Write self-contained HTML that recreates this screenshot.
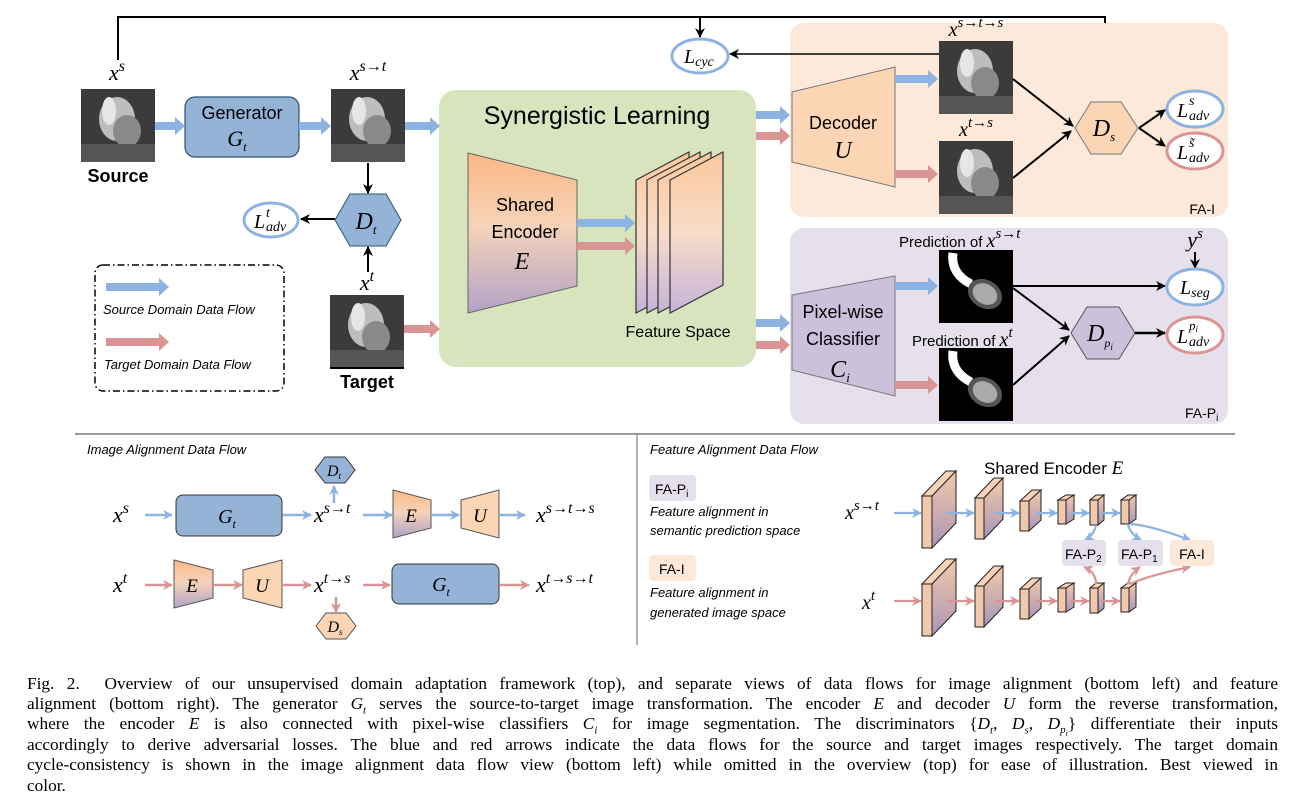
<!DOCTYPE html>
<html><head><meta charset="utf-8"><style>
body{margin:0;background:#fff;width:1300px;height:812px;overflow:hidden;position:relative}
svg{position:absolute;left:0;top:0}
.s{font-family:"Liberation Sans",sans-serif}
.m{font-family:"Liberation Serif",serif;font-style:italic}
.cap{position:absolute;left:27px;width:1251px;font-family:"Liberation Serif",serif;font-size:17.3px;line-height:20px;text-align:justify;text-align-last:justify;white-space:nowrap}
.cap i{font-style:italic}
</style></head><body>
<svg width="1300" height="812" viewBox="0 0 1300 812">
<defs>
<marker id="ak" markerWidth="10" markerHeight="10" refX="9" refY="5" orient="auto" markerUnits="userSpaceOnUse"><path d="M0,0 L10,5 L0,10 L3,5z" fill="#000"/></marker>
<marker id="ab" markerWidth="10" markerHeight="10" refX="9" refY="5" orient="auto" markerUnits="userSpaceOnUse"><path d="M0,0 L10,5 L0,10 L3,5z" fill="#8db3e2"/></marker>
<marker id="ar" markerWidth="10" markerHeight="10" refX="9" refY="5" orient="auto" markerUnits="userSpaceOnUse"><path d="M0,0 L10,5 L0,10 L3,5z" fill="#d99594"/></marker>
<linearGradient id="g1" x1="0" y1="0" x2="0" y2="1"><stop offset="0" stop-color="#fbb884"/><stop offset="0.45" stop-color="#f6d3b8"/><stop offset="1" stop-color="#b3a2c7"/></linearGradient>
<linearGradient id="g2" x1="0" y1="0" x2="0" y2="1"><stop offset="0" stop-color="#fbc79c"/><stop offset="0.5" stop-color="#f8dcc8"/><stop offset="1" stop-color="#c5b3d8"/></linearGradient>
<linearGradient id="g3" x1="0" y1="0" x2="0" y2="1"><stop offset="0" stop-color="#f3c9a8"/><stop offset="1" stop-color="#a996b8"/></linearGradient>
<g id="mri"><rect width="74" height="73" fill="#3b3b3b"/><ellipse cx="36" cy="30" rx="18" ry="22" fill="#bdbdbd"/><ellipse cx="46" cy="42" rx="14" ry="16" fill="#8a8a8a"/><ellipse cx="28" cy="22" rx="7" ry="14" fill="#e6e6e6"/><rect y="55" width="74" height="18" fill="#555"/></g>
<g id="pred"><rect width="74" height="73" fill="#000"/><path d="M14,3 C12,18 20,28 32,34" stroke="#fff" stroke-width="9" fill="none"/><ellipse cx="46" cy="44" rx="18" ry="14" fill="#555" transform="rotate(30 46 44)"/><ellipse cx="46" cy="44" rx="13" ry="10" fill="#aaa" transform="rotate(30 46 44)"/></g>
</defs>

<polyline points="118,60 118,17 1105,17 1105,101" fill="none" stroke="#000" stroke-width="2" marker-end="url(#ak)"/>
<line x1="700" y1="17" x2="700" y2="37" stroke="#000" stroke-width="2" marker-end="url(#ak)"/>

<rect x="439" y="90" width="317" height="277" rx="17" fill="#d7e4bd"/>
<rect x="790" y="23" width="438" height="194" rx="14" fill="#fde9d9"/>
<rect x="790" y="228" width="438" height="196" rx="14" fill="#e5e0ec"/>

<text x="117" y="80" class="m" font-size="22" text-anchor="middle">x<tspan font-size="16" dy="-9">s</tspan></text>
<use href="#mri" x="81" y="89"/>
<text x="118" y="182" class="s" font-size="18" font-weight="bold" text-anchor="middle">Source</text>
<rect x="185" y="97" width="114" height="60" rx="10" fill="#95b3d7" stroke="#2f4f75" stroke-width="1.2"/>
<text x="242" y="119" class="s" font-size="18" text-anchor="middle">Generator</text>
<text x="237" y="146" class="m" font-size="22" text-anchor="middle">G<tspan font-size="13" dy="5">t</tspan></text>
<text x="368" y="80" class="m" font-size="22" text-anchor="middle">x<tspan font-size="16" dy="-9">s→t</tspan></text>
<use href="#mri" x="331" y="89"/>
<polygon points="155,122 175,122 175,117 185,126 175,135 175,130 155,130" fill="#8db3e2"/>
<polygon points="299,122 321,122 321,117 331,126 321,135 321,130 299,130" fill="#8db3e2"/>
<polygon points="405,122 430,122 430,117 440,126 430,135 430,130 405,130" fill="#8db3e2"/>

<line x1="368" y1="163" x2="368" y2="193" stroke="#000" stroke-width="2" marker-end="url(#ak)"/>
<polygon points="335,220 350,194 386,194 401,220 386,246 350,246" fill="#95b3d7" stroke="#2f4f75" stroke-width="1"/>
<text x="366" y="229" class="m" font-size="24" text-anchor="middle">D<tspan font-size="13" dy="5">t</tspan></text>
<line x1="335" y1="219" x2="301" y2="219" stroke="#000" stroke-width="2" marker-end="url(#ak)"/>
<ellipse cx="271" cy="220" rx="27" ry="17" fill="#fff" stroke="#8db3e2" stroke-width="3"/>
<text x="254" y="228" class="m" font-size="20">L</text><text x="266" y="217" class="m" font-size="14">t</text><text x="266" y="231" class="m" font-size="14">adv</text>
<text x="367" y="290" class="m" font-size="22" text-anchor="middle">x<tspan font-size="16" dy="-9">t</tspan></text>
<line x1="368" y1="272" x2="368" y2="247" stroke="#000" stroke-width="2" marker-end="url(#ak)"/>
<use href="#mri" x="330" y="295"/>
<line x1="330" y1="368" x2="404" y2="368" stroke="#000" stroke-width="2"/>
<text x="367" y="388" class="s" font-size="18" font-weight="bold" text-anchor="middle">Target</text>
<polygon points="404,325 430,325 430,320 440,329 430,338 430,333 404,333" fill="#d99594"/>

<rect x="95" y="265" width="189" height="126" rx="8" fill="none" stroke="#000" stroke-width="1.5" stroke-dasharray="7,3,1.5,3"/>
<polygon points="106,283 159,283 159,278 169,287 159,296 159,291 106,291" fill="#8db3e2"/>
<text x="103" y="314" class="s" font-size="13" font-style="italic">Source Domain Data Flow</text>
<polygon points="106,338 159,338 159,333 169,342 159,351 159,346 106,346" fill="#d99594"/>
<text x="104" y="369" class="s" font-size="13" font-style="italic">Target Domain Data Flow</text>

<text x="597" y="124" class="s" font-size="25" text-anchor="middle">Synergistic Learning</text>
<polygon points="468,153 577,180 577,286 468,313" fill="url(#g1)" stroke="#666" stroke-width="1"/>
<text x="525" y="211" class="s" font-size="18" text-anchor="middle">Shared</text>
<text x="525" y="238" class="s" font-size="18" text-anchor="middle">Encoder</text>
<text x="522" y="269" class="m" font-size="24" text-anchor="middle">E</text>
<polygon points="577,219 625,219 625,214 635,223 625,232 625,227 577,227" fill="#8db3e2"/>
<polygon points="577,242 625,242 625,237 635,246 625,255 625,250 577,250" fill="#d99594"/>
<g fill="url(#g2)" stroke="#333" stroke-width="1.2">
<polygon points="636,180 689,152 689,285 636,313"/>
<polygon points="647,180 700,152 700,285 647,313"/>
<polygon points="658,180 711,152 711,285 658,313"/>
<polygon points="670,180 723,152 723,285 670,313"/>
</g>
<text x="678" y="337" class="s" font-size="16" text-anchor="middle">Feature Space</text>

<polygon points="756,111 780,111 780,106 790,115 780,124 780,119 756,119" fill="#8db3e2"/>
<polygon points="756,132 780,132 780,127 790,136 780,145 780,140 756,140" fill="#d99594"/>
<polygon points="756,319 780,319 780,314 790,323 780,332 780,327 756,327" fill="#8db3e2"/>
<polygon points="756,341 780,341 780,336 790,345 780,354 780,349 756,349" fill="#d99594"/>

<polygon points="792,92 895,67 895,187 792,162" fill="#fcd5b5" stroke="#777" stroke-width="1"/>
<text x="843" y="129" class="s" font-size="18" text-anchor="middle">Decoder</text>
<text x="843" y="158" class="m" font-size="24" text-anchor="middle">U</text>
<polygon points="895,75 928,75 928,70 938,79 928,88 928,83 895,83" fill="#8db3e2"/>
<polygon points="895,170 928,170 928,165 938,174 928,183 928,178 895,178" fill="#d99594"/>
<text x="976" y="36" class="m" font-size="20" text-anchor="middle">x<tspan font-size="15" dy="-9">s→t→s</tspan></text>
<use href="#mri" x="939" y="41"/>
<text x="976" y="136" class="m" font-size="20" text-anchor="middle">x<tspan font-size="15" dy="-9">t→s</tspan></text>
<use href="#mri" x="939" y="141"/>
<line x1="939" y1="54" x2="730" y2="54" stroke="#000" stroke-width="1.5" marker-end="url(#ak)"/>
<ellipse cx="700" cy="56" rx="28" ry="17" fill="#fff" stroke="#8db3e2" stroke-width="3"/>
<text x="684" y="63" class="m" font-size="20">L<tspan font-size="14" dy="3">cyc</tspan></text>
<line x1="1013" y1="79" x2="1073" y2="126" stroke="#000" stroke-width="2" marker-end="url(#ak)"/>
<line x1="1013" y1="178" x2="1071" y2="131" stroke="#000" stroke-width="2" marker-end="url(#ak)"/>
<polygon points="1075,128 1091,102 1121,102 1138,128 1121,154 1091,154" fill="#fcd5b5" stroke="#777" stroke-width="1"/>
<text x="1104" y="136" class="m" font-size="24" text-anchor="middle">D<tspan font-size="13" dy="5">s</tspan></text>
<line x1="1139" y1="128" x2="1165" y2="110" stroke="#000" stroke-width="2" marker-end="url(#ak)"/>
<line x1="1139" y1="128" x2="1165" y2="146" stroke="#000" stroke-width="2" marker-end="url(#ak)"/>
<ellipse cx="1195" cy="109" rx="28" ry="18" fill="#fff" stroke="#8db3e2" stroke-width="3"/>
<text x="1177" y="117" class="m" font-size="20">L</text><text x="1189" y="105" class="m" font-size="14">s</text><text x="1189" y="120" class="m" font-size="14">adv</text>
<ellipse cx="1195" cy="151" rx="28" ry="18" fill="#fff" stroke="#d99594" stroke-width="3"/>
<text x="1177" y="159" class="m" font-size="20">L</text><text x="1189" y="147" class="m" font-size="14">s̃</text><text x="1189" y="162" class="m" font-size="14">adv</text>
<text x="1215" y="214" class="s" font-size="14" text-anchor="end">FA-I</text>

<polygon points="792,295 895,276 895,396 792,370" fill="#ccc1da" stroke="#777" stroke-width="1"/>
<text x="843" y="318" class="s" font-size="18" text-anchor="middle">Pixel-wise</text>
<text x="843" y="345" class="s" font-size="18" text-anchor="middle">Classifier</text>
<text x="840" y="377" class="m" font-size="24" text-anchor="middle">C<tspan font-size="13" dy="5">i</tspan></text>
<polygon points="895,282 928,282 928,277 938,286 928,295 928,290 895,290" fill="#8db3e2"/>
<polygon points="895,381 928,381 928,376 938,385 928,394 928,389 895,389" fill="#d99594"/>
<text x="899" y="247" class="s" font-size="15">Prediction of <tspan class="m" font-size="20">x</tspan><tspan class="m" font-size="15" dy="-9">s→t</tspan></text>
<use href="#pred" x="939" y="250"/>
<text x="912" y="346" class="s" font-size="15">Prediction of <tspan class="m" font-size="20">x</tspan><tspan class="m" font-size="15" dy="-9">t</tspan></text>
<use href="#pred" x="939" y="348"/>
<text x="1195" y="247" class="m" font-size="22" text-anchor="middle">y<tspan font-size="15" dy="-9">s</tspan></text>
<line x1="1195" y1="252" x2="1195" y2="268" stroke="#000" stroke-width="2" marker-end="url(#ak)"/>
<line x1="1013" y1="286" x2="1165" y2="286" stroke="#000" stroke-width="2" marker-end="url(#ak)"/>
<line x1="1013" y1="288" x2="1069" y2="330" stroke="#000" stroke-width="2" marker-end="url(#ak)"/>
<line x1="1013" y1="385" x2="1069" y2="336" stroke="#000" stroke-width="2" marker-end="url(#ak)"/>
<polygon points="1071,333 1087,307 1119,307 1135,333 1119,359 1087,359" fill="#ccc1da" stroke="#555" stroke-width="1"/>
<text x="1100" y="341" class="m" font-size="24" text-anchor="middle">D<tspan font-size="12" dy="6">p<tspan font-size="9" dy="3">i</tspan></tspan></text>
<line x1="1135" y1="333" x2="1165" y2="333" stroke="#000" stroke-width="2.5" marker-end="url(#ak)"/>
<ellipse cx="1195" cy="287" rx="28" ry="18" fill="#fff" stroke="#8db3e2" stroke-width="3"/>
<text x="1180" y="294" class="m" font-size="20">L<tspan font-size="14" dy="3">seg</tspan></text>
<ellipse cx="1195" cy="335" rx="28" ry="18" fill="#fff" stroke="#d99594" stroke-width="3"/>
<text x="1177" y="343" class="m" font-size="20">L</text><text x="1189" y="330" class="m" font-size="13">p<tspan font-size="9" dy="2">i</tspan></text><text x="1189" y="346" class="m" font-size="14">adv</text>
<text x="1185" y="418" class="s" font-size="14">FA-P<tspan font-size="10" dy="3">i</tspan></text>

<line x1="75" y1="434" x2="1235" y2="434" stroke="#999" stroke-width="2"/>
<line x1="637" y1="434" x2="637" y2="645" stroke="#999" stroke-width="1.5"/>

<text x="87" y="454" class="s" font-size="13" font-style="italic">Image Alignment Data Flow</text>
<g font-size="22" class="m">
<text x="113" y="522">x<tspan font-size="16" dy="-9">s</tspan></text>
<text x="314" y="522">x<tspan font-size="16" dy="-9">s→t</tspan></text>
<text x="536" y="522">x<tspan font-size="16" dy="-9">s→t→s</tspan></text>
<text x="113" y="592">x<tspan font-size="16" dy="-9">t</tspan></text>
<text x="314" y="592">x<tspan font-size="16" dy="-9">t→s</tspan></text>
<text x="536" y="592">x<tspan font-size="16" dy="-9">t→s→t</tspan></text>
</g>
<g stroke="#8db3e2" stroke-width="2.5" marker-end="url(#ab)">
<line x1="145" y1="515" x2="172" y2="515"/><line x1="283" y1="515" x2="311" y2="515"/>
<line x1="363" y1="515" x2="392" y2="515"/><line x1="432" y1="515" x2="459" y2="515"/>
<line x1="500" y1="515" x2="525" y2="515"/><line x1="334" y1="503" x2="334" y2="486"/>
</g>
<g stroke="#d99594" stroke-width="2.5" marker-end="url(#ar)">
<line x1="145" y1="585" x2="172" y2="585"/><line x1="214" y1="585" x2="242" y2="585"/>
<line x1="283" y1="585" x2="311" y2="585"/><line x1="363" y1="585" x2="390" y2="585"/>
<line x1="500" y1="585" x2="529" y2="585"/><line x1="336" y1="597" x2="336" y2="612"/>
</g>
<rect x="176" y="495" width="106" height="41" rx="7" fill="#95b3d7" stroke="#333" stroke-width="1"/>
<text x="227" y="523" class="m" font-size="20" text-anchor="middle">G<tspan font-size="12" dy="5">t</tspan></text>
<polygon points="393,490 431,500 431,528 393,538" fill="url(#g1)" stroke="#555"/>
<text x="411" y="522" class="m" font-size="19" text-anchor="middle">E</text>
<polygon points="461,500 499,490 499,538 461,528" fill="#fcd5b5" stroke="#555"/>
<text x="480" y="522" class="m" font-size="19" text-anchor="middle">U</text>
<polygon points="315,470 325,457 345,457 355,470 345,483 325,483" fill="#95b3d7" stroke="#333"/>
<text x="334" y="476" class="m" font-size="16" text-anchor="middle">D<tspan font-size="9" dy="3">t</tspan></text>
<polygon points="174,560 213,570 213,598 174,608" fill="url(#g1)" stroke="#555"/>
<text x="192" y="592" class="m" font-size="19" text-anchor="middle">E</text>
<polygon points="243,570 282,560 282,608 243,598" fill="#fcd5b5" stroke="#555"/>
<text x="262" y="592" class="m" font-size="19" text-anchor="middle">U</text>
<rect x="392" y="564" width="107" height="40" rx="7" fill="#95b3d7" stroke="#333" stroke-width="1"/>
<text x="441" y="591" class="m" font-size="20" text-anchor="middle">G<tspan font-size="12" dy="5">t</tspan></text>
<polygon points="316,626 326,613 346,613 356,626 346,639 326,639" fill="#fcd5b5" stroke="#555"/>
<text x="335" y="632" class="m" font-size="16" text-anchor="middle">D<tspan font-size="9" dy="3">s</tspan></text>

<text x="650" y="454" class="s" font-size="13" font-style="italic">Feature Alignment Data Flow</text>
<rect x="649" y="475" width="47" height="26" rx="4" fill="#e5e0ec"/>
<text x="655" y="494" class="s" font-size="14">FA-P<tspan font-size="10" dy="3">i</tspan></text>
<text x="650" y="516" class="s" font-size="13" font-style="italic">Feature alignment in</text>
<text x="650" y="535" class="s" font-size="13" font-style="italic">semantic prediction space</text>
<rect x="649" y="555" width="47" height="26" rx="4" fill="#fde9d9"/>
<text x="659" y="574" class="s" font-size="14">FA-I</text>
<text x="650" y="597" class="s" font-size="13" font-style="italic">Feature alignment in</text>
<text x="650" y="617" class="s" font-size="13" font-style="italic">generated image space</text>
<text x="984" y="474" class="s" font-size="17">Shared Encoder <tspan class="m" font-size="19">E</tspan></text>
<text x="845" y="519" class="m" font-size="20">x<tspan font-size="15" dy="-9">s→t</tspan></text>
<text x="862" y="609" class="m" font-size="20">x<tspan font-size="15" dy="-9">t</tspan></text>

<g id="blocks" stroke="#222" stroke-width="1">
<polygon points="922,496 932,496 956,471 946,471" fill="#f7d2b6"/><polygon points="932,496 956,471 956,523 932,548" fill="url(#g3)"/><rect x="922" y="496" width="10" height="52" fill="#f0c8ad"/>
<polygon points="975,498 984,498 1003,478 994,478" fill="#f7d2b6"/><polygon points="984,498 1003,478 1003,519 984,539" fill="url(#g3)"/><rect x="975" y="498" width="9" height="41" fill="#f0c8ad"/>
<polygon points="1020,501 1029,501 1041,490 1032,490" fill="#f7d2b6"/><polygon points="1029,501 1041,490 1041,520 1029,531" fill="url(#g3)"/><rect x="1020" y="501" width="9" height="30" fill="#f0c8ad"/>
<polygon points="1058,500 1066,500 1074,495 1066,495" fill="#f7d2b6"/><polygon points="1066,500 1074,495 1074,519 1066,524" fill="url(#g3)"/><rect x="1058" y="500" width="8" height="24" fill="#f0c8ad"/>
<polygon points="1090,500 1098,500 1104,495 1096,495" fill="#f7d2b6"/><polygon points="1098,500 1104,495 1104,520 1098,525" fill="url(#g3)"/><rect x="1090" y="500" width="8" height="25" fill="#f0c8ad"/>
<polygon points="1121,500 1129,500 1136,495 1128,495" fill="#f7d2b6"/><polygon points="1129,500 1136,495 1136,519 1129,524" fill="url(#g3)"/><rect x="1121" y="500" width="8" height="24" fill="#f0c8ad"/>
</g>
<use href="#blocks" y="88"/>
<g stroke="#8db3e2" stroke-width="2.2" marker-end="url(#ab)" fill="none">
<line x1="894" y1="513" x2="921" y2="513"/><line x1="946" y1="513" x2="974" y2="513"/>
<line x1="995" y1="513" x2="1019" y2="513"/><line x1="1036" y1="513" x2="1057" y2="513"/>
<line x1="1070" y1="513" x2="1089" y2="513"/><line x1="1101" y1="513" x2="1120" y2="513"/>
<path d="M1096,525 Q1094,535 1085,540"/><path d="M1128,524 Q1130,534 1141,540"/><path d="M1130,524 Q1150,525 1190,540"/>
</g>
<g stroke="#d99594" stroke-width="2.2" marker-end="url(#ar)" fill="none">
<line x1="894" y1="601" x2="921" y2="601"/><line x1="946" y1="601" x2="974" y2="601"/>
<line x1="995" y1="601" x2="1019" y2="601"/><line x1="1036" y1="601" x2="1057" y2="601"/>
<line x1="1070" y1="601" x2="1089" y2="601"/><line x1="1101" y1="601" x2="1120" y2="601"/>
<path d="M1096,584 Q1096,572 1084,567"/><path d="M1128,584 Q1130,574 1140,567"/><path d="M1130,584 Q1150,575 1190,567"/>
</g>
<rect x="1062" y="540" width="44" height="26" rx="4" fill="#e5e0ec"/>
<text x="1065" y="559" class="s" font-size="14">FA-P<tspan font-size="10" dy="3">2</tspan></text>
<rect x="1118" y="540" width="45" height="26" rx="4" fill="#e5e0ec"/>
<text x="1121" y="559" class="s" font-size="14">FA-P<tspan font-size="10" dy="3">1</tspan></text>
<rect x="1170" y="540" width="44" height="26" rx="4" fill="#fde9d9"/>
<text x="1192" y="559" class="s" font-size="14" text-anchor="middle">FA-I</text>
</svg>

<div class="cap" style="top:674px">Fig. 2.&nbsp; Overview of our unsupervised domain adaptation framework (top), and separate views of data flows for image alignment (bottom left) and feature</div>
<div class="cap" style="top:694px">alignment (bottom right). The generator <i>G<sub style="font-size:11px">t</sub></i> serves the source-to-target image transformation. The encoder <i>E</i> and decoder <i>U</i> form the reverse transformation,</div>
<div class="cap" style="top:714px">where the encoder <i>E</i> is also connected with pixel-wise classifiers <i>C<sub style="font-size:11px">i</sub></i> for image segmentation. The discriminators {<i>D<sub style="font-size:11px">t</sub></i>, <i>D<sub style="font-size:11px">s</sub></i>, <i>D<sub style="font-size:11px">p<sub style="font-size:8px">i</sub></sub></i>} differentiate their inputs</div>
<div class="cap" style="top:735px">accordingly to derive adversarial losses. The blue and red arrows indicate the data flows for the source and target images respectively. The target domain</div>
<div class="cap" style="top:755px">cycle-consistency is shown in the image alignment data flow view (bottom left) while omitted in the overview (top) for ease of illustration. Best viewed in</div>
<div class="cap" style="top:776px;text-align-last:left">color.</div>
</body></html>
